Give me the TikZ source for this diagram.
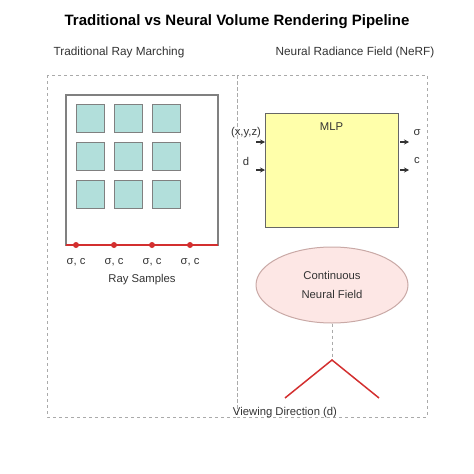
\documentclass[tikz,border=0pt]{standalone}
\usepackage{fontspec}
\setmainfont{Liberation Sans}
\usetikzlibrary{positioning,arrows.meta,shapes.geometric}

\definecolor{panelgray}{HTML}{AAAAAA}
\definecolor{cellfill}{HTML}{B2DFDB}
\definecolor{mlpfill}{HTML}{FFFFAA}
\definecolor{fieldfill}{HTML}{FDE7E5}
\definecolor{fieldline}{HTML}{C9A9A6}
\definecolor{rayred}{HTML}{D32F2F}
\definecolor{txt}{HTML}{333333}

\begin{document}
\begin{tikzpicture}[x=1pt,y=-1pt,
    panel/.style={draw=panelgray,dashed,line width=1pt},
    cell/.style={draw=gray,fill=cellfill,line width=0.8pt,minimum size=28pt,inner sep=0pt},
    lbl/.style={text=txt,font=\fontsize{11.3}{13}\selectfont,inner sep=1pt},
    io/.style={-{Stealth[length=5pt,width=5pt]},draw=black!80,line width=1.2pt}]
  \useasboundingbox (0,0) rectangle (474,474);

  \node[font=\bfseries\fontsize{15}{18}\selectfont] (title) at (237,22)
    {Traditional vs Neural Volume Rendering Pipeline};
  \node[lbl,font=\fontsize{11.8}{14}\selectfont] (subL) at (119,52) {Traditional Ray Marching};
  \node[lbl,font=\fontsize{11.8}{14}\selectfont] (subR) at (355,52) {Neural Radiance Field (NeRF)};

  % two dashed panels
  \draw[panel] (47,75) rectangle (237,417);
  \draw[panel] (237,75) rectangle (427,417);

  % traditional: voxel grid and ray samples
  \node[draw=gray,line width=1.3pt,minimum width=152pt,minimum height=150pt,
        inner sep=0pt,outer sep=0pt] (scene) at (142,170) {};
  \foreach \i in {0,1,2}
    \foreach \j in {0,1,2}
      \node[cell] (c\i\j) at (90+38*\i,118+38*\j) {};
  \draw[rayred,line width=1.8pt] (scene.south west) -- (scene.south east);
  \foreach \x in {76,114,152,190} {
    \fill[rayred] (\x,245) circle (3pt);
    \node[lbl] at (\x,262) {σ, c};
  }
  \node[lbl] (samples) at (142,280) {Ray Samples};

  % neural: MLP with inputs and outputs
  \node[draw=gray!80!black,fill=mlpfill,line width=1pt,minimum width=133pt,
        minimum height=114pt,inner sep=0pt,outer sep=0pt] (mlp) at (331.5,170) {};
  \node[lbl,below=9pt of mlp.north] (mlptxt) {MLP};
  \coordinate (inP) at (256,142);
  \coordinate (inD) at (256,170);
  \draw[io] (inP) -- (inP -| mlp.west);
  \draw[io] (inD) -- (inD -| mlp.west);
  \node[lbl] (pos) at (246,133) {(x,y,z)};
  \node[lbl] (dir) at (246,161) {d};
  \coordinate (outS) at (409,142);
  \coordinate (outC) at (409,170);
  \draw[io] (outS -| mlp.east) ++(2,0) -- (outS);
  \draw[io] (outC -| mlp.east) ++(2,0) -- (outC);
  \node[lbl] (sig) at (417,133) {σ};
  \node[lbl] (col) at (417,161) {c};

  \node[ellipse,draw=fieldline,fill=fieldfill,line width=1pt,minimum width=152pt,
        minimum height=76pt,align=center,lbl,
        font=\fontsize{11.3}{19}\selectfont] (field) at (332,285)
    {Continuous\\Neural Field};

  % viewing direction
  \coordinate (apex) at (332,360);
  \coordinate (vl) at (285,398);
  \coordinate (vr) at (379,398);
  \draw[panelgray,dashed,line width=1pt] (field.south) -- (apex);
  \draw[rayred,line width=1.5pt] (vl) -- (apex) -- (vr);
  \node[lbl] (view) at (285,413) {Viewing Direction (d)};
\end{tikzpicture}
\end{document}
